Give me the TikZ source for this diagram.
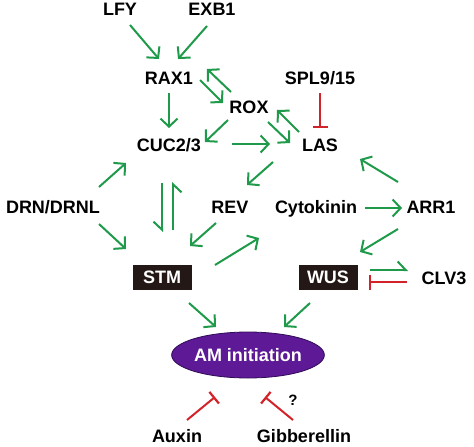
\documentclass[tikz,border=0pt]{standalone}
\usepackage{fontspec}
\setmainfont{Liberation Sans}
\usetikzlibrary{arrows.meta,calc,shapes.geometric}
\definecolor{actgreen}{HTML}{1F9A4A}
\definecolor{inhred}{HTML}{D2232A}
\definecolor{boxblack}{HTML}{231815}
\definecolor{amfill}{HTML}{5E1A96}
\definecolor{amline}{HTML}{2E0A55}
\begin{document}
\begin{tikzpicture}[x=1pt, y=-1pt,
    gene/.style={font=\fontsize{18}{20}\selectfont\bfseries, text height=13pt, text depth=0pt, inner sep=0pt},
    genebox/.style={gene, fill=boxblack, text=white, minimum width=59pt, minimum height=25pt},
    act/.style={draw=actgreen, line width=2pt, -{Straight Barb[length=8pt, width=17pt]}},
    acthalf/.style={draw=actgreen, line width=2pt, -{Straight Barb[length=8pt, width=17pt, #1]}},
    inh/.style={draw=inhred, line width=2pt, -{Bar[width=15pt, line width=2.2pt]}}]
    \useasboundingbox (0,0) rectangle (474,447);

    % genes and signals
    \node[gene] (lfy) at (120,9) {LFY};
    \node[gene] (exb) at (212,9) {EXB1};
    \node[gene] (rax) at (169,78) {RAX1};
    \node[gene] (spl) at (320,78) {SPL9/15};
    \node[gene] (rox) at (249,107) {ROX};
    \node[gene] (cuc) at (169,145) {CUC2/3};
    \node[gene] (las) at (320,145) {LAS};
    \node[gene] (drn) at (53,207) {DRN/DRNL};
    \node[gene] (rev) at (230,207) {REV};
    \node[gene] (cyt) at (316,207) {Cytokinin};
    \node[gene] (arr) at (431,207) {ARR1};
    \node[genebox] (stm) at (162,277) {STM};
    \node[genebox] (wus) at (328,277) {WUS};
    \node[gene] (clv) at (444,278) {CLV3};
    \node[ellipse, draw=amline, line width=0.8pt, fill=amfill, text=white,
          minimum width=144pt, minimum height=46pt, inner sep=0pt,
          font=\fontsize{18}{20}\selectfont\bfseries] (am) at (248,355) {AM initiation};
    \node[gene] (aux) at (177,436) {Auxin};
    \node[gene] (gib) at (304,436) {Gibberellin};
    \node[gene, font=\fontsize{15}{17}\selectfont\bfseries, text height=11pt] (q) at (293,400) {?};

    % upper part
    \draw[act] ($(lfy)+(10,16)$) -- ($(rax)+(-10,-19)$);
    \draw[act] ($(exb)+(-5,17)$) -- ($(rax)+(9,-19)$);
    \draw[act] ($(rax)+(0,15)$) -- ($(cuc)+(0,-17)$);
    \draw[act] ($(rax)+(31,2)$) -- ($(rox)+(-26,-4)$);
    \draw[act] ($(rox)+(-18,-15)$) -- ($(rax)+(38,-9)$);
    \draw[act] ($(rox)+(-21,13)$) -- ($(cuc)+(36,-3)$);
    \draw[act] ($(cuc)+(63,-1)$) -- ($(las)+(-50,-1)$);
    \draw[act] ($(rox)+(19,15)$) -- ($(las)+(-30,-2)$);
    \draw[act] ($(las)+(-21,-13)$) -- ($(rox)+(28,3)$);
    \draw[inh] ($(spl)+(0,15)$) -- ($(las)+(0,-17)$);
    \draw[act] ($(las)+(-47,17)$) -- ($(rev)+(17,-22)$);
    \draw[act] ($(arr)+(-33,-25)$) -- ($(las)+(40,14)$);
    \draw[act] ($(drn)+(46,-20)$) -- ($(cuc)+(-43,18)$);
    \draw[act] ($(cyt)+(49,1)$) -- ($(arr)+(-29,1)$);

    % middle part
    \draw[acthalf=right] ($(cuc)+(-7,38)$) -- ($(stm)+(0,-45)$);
    \draw[acthalf=right] ($(stm)+(11,-47)$) -- ($(cuc)+(4,37)$);
    \draw[act] ($(drn)+(46,17)$) -- ($(stm)+(-36,-28)$);
    \draw[act] ($(rev)+(-14,16)$) -- ($(stm)+(28,-31)$);
    \draw[act] ($(stm)+(53,-12)$) -- ($(cyt)+(-57,31)$);
    \draw[act] ($(arr)+(-33,22)$) -- ($(wus)+(32,-25)$);
    \draw[acthalf=left] ($(wus)+(42,-7)$) -- ($(clv)+(-36,-8)$);
    \draw[inh] ($(clv)+(-37,4)$) -- ($(wus)+(41,5)$);

    % lower part
    \draw[act] ($(stm)+(27,26)$) -- ($(am)+(-32,-28)$);
    \draw[act] ($(wus)+(-18,26)$) -- ($(am)+(36,-28)$);
    \draw[inh] ($(aux)+(10,-16)$) -- ($(am)+(-33,42)$);
    \draw[inh] ($(gib)+(-11,-16)$) -- ($(am)+(17,42)$);
\end{tikzpicture}
\end{document}
